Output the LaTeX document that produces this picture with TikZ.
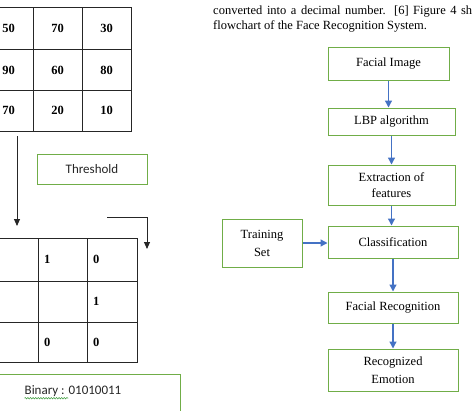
\documentclass[tikz,border=0pt]{standalone}
\usepackage{fontspec}
\setmainfont{Liberation Serif}
\newfontfamily\calibfont{Carlito}
\usetikzlibrary{calc,positioning,arrows.meta,decorations.pathmorphing}
\definecolor{boxgreen}{HTML}{70AD47}
\definecolor{flowblue}{HTML}{4472C4}
\definecolor{spellgreen}{HTML}{3C9A3C}

\begin{document}
\begin{tikzpicture}[x=1pt,y=-1pt,
    gridline/.style={draw=black!85,line width=0.9pt},
    cellnum/.style={font=\fontsize{12.5}{14}\selectfont\bfseries,inner sep=0pt},
    greenbox/.style={draw=boxgreen,line width=1pt},
    flowbox/.style={greenbox,align=center,inner sep=0pt,
      font=\fontsize{12.5}{18}\selectfont},
    notebox/.style={greenbox,inner sep=0pt,text=black!85,
      font=\calibfont\fontsize{13}{15}\selectfont},
    blackarrow/.style={draw=black!85,line width=0.9pt,-{Triangle[length=7pt,width=6pt]}},
    flowarrow/.style={draw=flowblue,line width=1.3pt,-{Triangle[length=7pt,width=7pt]}}]
  \useasboundingbox (0,0) rectangle (474,410);
  \clip (0,0) rectangle (474,410);

  % text of the page
  \node[anchor=base west,inner sep=0pt,font=\fontsize{12.5}{15}\selectfont] (line1) at (213,14)
    {\makebox[259pt][s]{converted into a decimal number. [6] Figure 4 sh}};
  \node[anchor=base west,inner sep=0pt,font=\fontsize{12.5}{15}\selectfont] (line2) at (213,29)
    {flowchart of the Face Recognition System.};

  % pixel values
  \draw[gridline] (-16,7) rectangle (131,131);
  \foreach \x in {33,82} \draw[gridline] (\x,7) -- (\x,131);
  \foreach \y in {49,90} \draw[gridline] (-16,\y) -- (131,\y);
  \foreach \r/\yc/\va/\vb/\vc in {1/28/50/70/30, 2/70/90/60/80, 3/110/70/20/10}{%
    \node[cellnum] (pix-\r-1) at (8.5,\yc) {\va};
    \node[cellnum] (pix-\r-2) at (57.5,\yc) {\vb};
    \node[cellnum] (pix-\r-3) at (106.5,\yc) {\vc};
  }

  \node[notebox,minimum width=110,minimum height=30] (threshold) at (92,169) {Threshold};

  % binary pattern
  \draw[gridline] (-11,238) rectangle (137,362);
  \foreach \x in {38,87} \draw[gridline] (\x,238) -- (\x,362);
  \foreach \y in {281,322} \draw[gridline] (-11,\y) -- (137,\y);
  \foreach \n/\xc/\yc/\v in {a/44/259/1, b/93/259/0, c/93/301/1, d/44/342/0, e/93/342/0}{%
    \node[cellnum,anchor=west] (bit-\n) at (\xc,\yc) {\v};
  }

  \coordinate (down1) at (17,136);
  \coordinate (down2) at (17,226);
  \draw[blackarrow] (down1) -- (down2);
  \coordinate (turn1) at (107,217);
  \coordinate (turn2) at (147,249);
  \draw[blackarrow] (turn1) -| (turn2);

  \draw[greenbox] (-5,374) rectangle (180,420);
  \node[inner sep=0pt,text=black!85,font=\calibfont\fontsize{13}{15}\selectfont] (binary) at (73,391)
    {Binary : 01010011};
  \draw[spellgreen,line width=0.5pt,decorate,
    decoration={snake,amplitude=0.8pt,segment length=2.6pt}]
    (binary.south west) ++(0,1.5) -- ++(44,0);

  % flowchart
  \node[flowbox,minimum width=121,minimum height=33] (faceimg) at (388.5,63.5) {Facial Image};
  \node[flowbox,minimum width=127,minimum height=27] (lbp) at (391.5,121.5) {LBP algorithm};
  \node[flowbox,minimum width=127,minimum height=40,font=\fontsize{12.5}{16}\selectfont] (extract) at (391.5,185)
    {Extraction of\\features};
  \node[flowbox,minimum width=130,minimum height=32] (classify) at (393,242) {Classification};
  \node[flowbox,minimum width=80,minimum height=48] (training) at (262,243) {Training\\Set};
  \node[flowbox,minimum width=130,minimum height=31] (facerec) at (393,307.5) {Facial Recognition};
  \node[flowbox,minimum width=130,minimum height=42] (emotion) at (393,370) {Recognized\\Emotion};

  \draw[flowarrow] (faceimg.south) -- (faceimg.south |- lbp.north);
  \draw[flowarrow] (lbp.south) -- (lbp.south |- extract.north);
  \draw[flowarrow] (extract.south) -- (extract.south |- classify.north);
  \draw[flowarrow] (training.east) -- (training.east -| classify.west);
  \draw[flowarrow] (classify.south) -- (facerec.north);
  \draw[flowarrow] (facerec.south) -- (emotion.north);
\end{tikzpicture}
\end{document}
